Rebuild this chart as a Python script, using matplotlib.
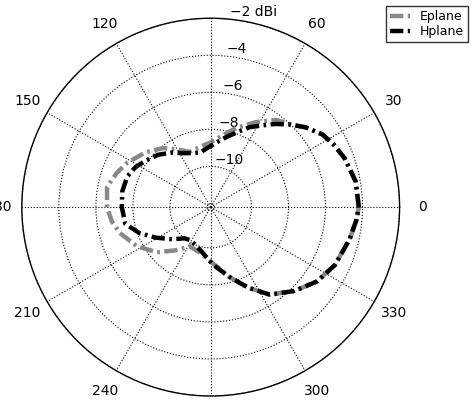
import numpy as np
import matplotlib
matplotlib.use("Agg")
import matplotlib.pyplot as plt

# angles in degrees, gain in dBi
h_ang = [0, 10, 20, 27, 33, 40, 46, 52, 58, 64, 69, 77, 85, 93, 101, 110, 118, 125, 135, 144,
         152, 160, 170, 180, 191, 200, 209, 220, 230, 238, 248, 260, 272, 285, 295, 304, 315,
         325, 335, 347, 355, 360]
h_db = [-4.2, -4.25, -4.5, -4.75, -5.0, -5.5, -6.0, -6.5, -7.0, -7.4, -7.8, -8.3, -8.7, -9.0,
        -9.2, -9.1, -8.9, -8.6, -8.2, -7.9, -7.6, -7.4, -7.35, -7.4, -7.5, -8.1, -8.8, -9.5,
        -10.0, -10.1, -10.0, -9.7, -9.1, -8.3, -7.4, -6.5, -5.8, -5.2, -4.8, -4.5, -4.3, -4.2]
e_ang = [0, 10, 20, 27, 33, 40, 46, 53, 62, 72, 81, 90, 100, 111, 120, 129, 140, 152, 160, 169,
         180, 188, 196, 208, 220, 231, 242, 255, 269, 285, 295, 304, 315, 325, 335, 347, 355, 360]
e_db = [-4.2, -4.25, -4.5, -4.75, -5.0, -5.5, -6.0, -6.3, -7.0, -7.7, -8.3, -8.7, -8.9, -9.0,
        -8.6, -8.1, -7.6, -7.1, -6.8, -6.5, -6.6, -6.8, -7.1, -7.7, -8.4, -9.2, -9.8, -9.7,
        -9.3, -8.3, -7.4, -6.5, -5.8, -5.2, -4.8, -4.5, -4.3, -4.2]

fig = plt.figure(figsize=(4.74, 4.13), dpi=100)
ax = fig.add_axes([0.046, 0.041, 0.797, 0.915], projection="polar")

ax.plot(np.radians(e_ang), e_db, color="#888888", lw=3.2, dashes=(3, 1, 0.6, 1), label="Eplane")
ax.plot(np.radians(h_ang), h_db, color="black", lw=3.2, dashes=(3, 1, 0.6, 1), label="Hplane")

ax.set_ylim(-12.2, -2)
ax.set_yticks([-12, -10, -8, -6, -4, -2])
ax.set_yticklabels(["", "\u221210", "\u22128", "\u22126", "\u22124", "\u22122 dBi"], fontsize=10)
ax.set_rlabel_position(84)
ax.set_xticks(np.radians(np.arange(0, 360, 30)))
ax.set_xticklabels([str(a) for a in range(0, 360, 30)], fontsize=10)
ax.tick_params(axis="x", pad=6)
ax.grid(True, color="black", ls=":", lw=0.8)
ax.spines["polar"].set_linewidth(1.0)

fig.legend(loc="upper right", bbox_to_anchor=(1.0, 1.0), fontsize=9, handlelength=1.6,
           fancybox=False, edgecolor="black", borderpad=0.3, labelspacing=0.2)

fig.savefig("out.png", dpi=100)
